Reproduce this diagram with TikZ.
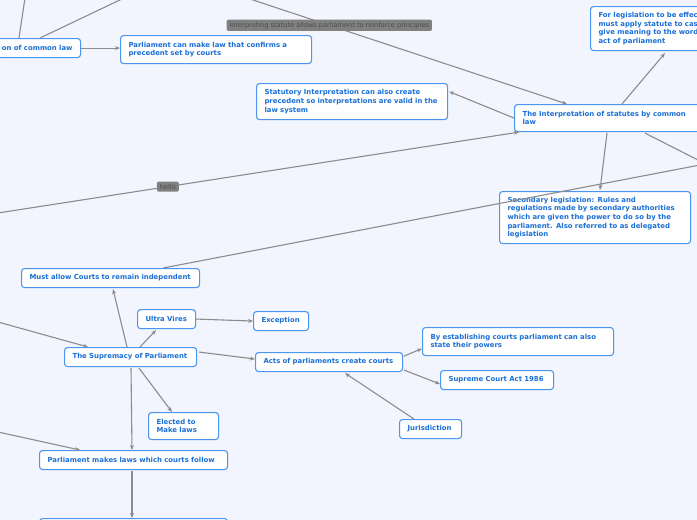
\documentclass[tikz,border=0pt]{standalone}
\usetikzlibrary{calc,arrows.meta}
\usepackage{fontspec}
\setmainfont{DejaVu Sans}
\definecolor{bg}{HTML}{F2F5FD}
\definecolor{bd}{HTML}{4A96EE}
\definecolor{tx}{HTML}{1A6FD6}
\definecolor{ed}{HTML}{8C8C8C}
\definecolor{lb}{HTML}{808080}
\begin{document}
\begin{tikzpicture}[x=1pt,y=-1pt,
 box/.style={draw=bd,line width=1.1pt,fill=white,rounded corners=3pt,anchor=north west,
   inner xsep=8pt,inner ysep=2pt,align=left,text=tx,font=\fontsize{6.9}{8.6}\selectfont\bfseries,
   execute at begin node={\hyphenpenalty=10000 \exhyphenpenalty=10000 }},
 lbl/.style={fill=lb,rounded corners=2pt,text=black!70,font=\fontsize{6.6}{7.5}\selectfont,inner xsep=3pt,inner ysep=2.5pt},
 con/.style={draw=ed,line width=1.1pt,-{Stealth[length=5pt,width=4pt]}},
 plain/.style={draw=ed,line width=1.1pt}]
\useasboundingbox (0,0) rectangle (697,520);
\fill[bg] (0,0) rectangle (697,520);
\clip (0,0) rectangle (697,520);
% nodes
\node[box,minimum width=110,minimum height=19,text width=94] (cl) at (-30,38) {\hfill on of common law};
\node[box,minimum width=191,minimum height=28,text width=175] (p1) at (120,35) {Parliament can make law that confirms a precedent set by courts};
\node[box,minimum width=191,minimum height=36,text width=175] (si) at (256,83) {Statutory Interpretation can also create precedent so interpretations are valid in the law system};
\node[box,minimum width=160,minimum height=44,text width=144] (fl) at (590,6) {For legislation to be effective courts\\must apply statute to cases and\\give meaning to the words of an\\act of parliament};
\node[box,minimum width=200,minimum height=27,text width=184] (in) at (514,104) {The Interpretation of statutes by common\\law};
\node[box,minimum width=191,minimum height=52,text width=175] (sl) at (499,191) {Secondary legislation: Rules and regulations made by secondary authorities which are given the power to do so by the parliament. Also referred to as delegated legislation};
\node[box,minimum width=178,minimum height=19,text width=162] (ma) at (21,268) {Must allow Courts to remain independent};
\node[box,minimum width=58,minimum height=19,text width=42] (uv) at (137,309) {Ultra Vires};
\node[box,minimum width=55,minimum height=19,text width=39] (ex) at (253,311) {Exception};
\node[box,minimum width=132,minimum height=19,text width=116] (sp) at (64,347) {The Supremacy of Parliament};
\node[box,minimum width=147,minimum height=19,text width=131] (ac) at (255,352) {Acts of parliaments create courts};
\node[box,minimum width=191,minimum height=28,text width=175] (be) at (422,327) {By establishing courts parliament can also state their powers};
\node[box,minimum width=113,minimum height=19,text width=97] (sc) at (440,370) {Supreme Court Act 1986};
\node[box,minimum width=70,minimum height=27,text width=54] (el) at (148,412) {Elected to\\Make laws};
\node[box,minimum width=62,minimum height=19,text width=46] (ju) at (399,419) {Jurisdiction};
\node[box,minimum width=188,minimum height=19,text width=172] (ml) at (39,450) {Parliament makes laws which courts follow};
\node[box,minimum width=188,minimum height=19,text width=172] (bt) at (39,518) {};
% free ends
\coordinate (t1) at (25,-2);
\coordinate (t2) at (124,-2);
\coordinate (t3) at (250,-1);
\coordinate (r1) at (700,161);
\coordinate (r2) at (700,165);
\coordinate (l1) at (-2,213);
\coordinate (l2) at (-2,322);
\coordinate (l3) at (-2,432);
% connectors
\draw[plain] (t1) -- ($(cl.north west)+(49,0)$);
\draw[plain] (t2) -- ($(cl.north west)+(70,0)$);
\draw[plain] ($(cl.south west)+(30,0)$) -- +(-4,4);
\draw[con] (cl) -- (cl.east -| p1.west);
\draw[con] (t3) -- ($(in.north west)+(53,0)$) node[lbl,pos=0.25] (lab1) {Interpreting statute allows parliament to reinforce principles};
\draw[con] (in.west) -- ($(si.east)+(1,-10)$);
\draw[con] ($(in.north west)+(108,0)$) -- ($(fl.south west)+(75,2)$);
\draw[con] ($(in.south west)+(93,1)$) -- ($(sl.north west)+(101,-1)$);
\draw[plain] ($(in.south west)+(131,1)$) -- (r1);
\draw[con] (l1) -- ($(in.south west)+(5,0)$) node[lbl,pos=0.326] (lab2) {hello};
\draw[plain] ($(ma.north west)+(142,0)$) -- (r2);
\draw[con] (l2) -- ($(sp.north west)+(24,0)$);
\draw[con] ($(sp.north west)+(63,0)$) -- ($(ma.south west)+(92,1)$);
\draw[con] ($(sp.north west)+(76,0)$) -- ($(uv.south west)+(19,1)$);
\draw[con] (uv.east) -- (ex.west);
\draw[con] ($(sp.east)+(2,-5)$) -- ($(ac.west)+(0,-3)$);
\draw[con] ($(ac.east)+(1,-6)$) -- ($(be.west)+(0,7)$);
\draw[con] ($(ac.east)+(1,8)$) -- ($(sc.west)+(0,4)$);
\draw[con] ($(ju.north west)+(15,0)$) -- ($(ac.south west)+(90,1)$);
\draw[con] ($(sp.south west)+(75,1)$) -- ($(el.north west)+(24,0)$);
\draw[con] ($(sp.south west)+(67,1)$) -- ($(ml.north west)+(93,0)$);
\draw[con] (l3) -- ($(ml.north west)+(41,0)$);
\draw[con] ($(ml.south west)+(93,1)$) -- ($(bt.north west)+(93,0)$);
\end{tikzpicture}
\end{document}
